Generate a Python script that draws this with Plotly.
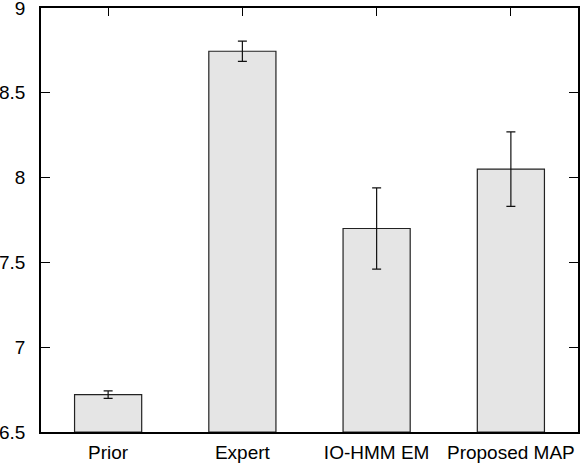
"""Bar chart with error bars: prior vs expert vs IO-HMM EM vs proposed MAP."""

import plotly.graph_objects as go

methods = ["Prior", "Expert", "IO-HMM EM", "Proposed MAP"]
means = [6.72, 8.745, 7.70, 8.05]
errors = [0.022, 0.06, 0.24, 0.22]

y_ticks = [6.5, 7, 7.5, 8, 8.5, 9]
y_tick_labels = ["6.5", "7", "7.5", "8", "8.5", "9"]

FONT = "Liberation Sans, Arial, sans-serif"

fig = go.Figure()
fig.add_trace(
    go.Bar(
        x=list(range(len(methods))),
        y=[m - 6.5 for m in means],
        base=6.5,
        width=0.5,
        marker={"color": "#e5e5e5", "line": {"color": "#222222", "width": 1.2}},
        error_y={
            "type": "data",
            "array": errors,
            "color": "#111111",
            "thickness": 1.2,
            "width": 4.5,
        },
        hoverinfo="skip",
    )
)
fig.update_layout(
    width=580,
    height=464,
    margin={"l": 41, "r": 2, "t": 8, "b": 32, "autoexpand": False},
    paper_bgcolor="white",
    plot_bgcolor="white",
    showlegend=False,
    font={"family": FONT, "size": 19, "color": "black"},
    xaxis={
        "range": [-0.5, 3.5],
        "tickvals": list(range(len(methods))),
        "ticktext": methods,
        "ticks": "inside",
        "ticklen": 8,
        "tickcolor": "black",
        "showline": True,
        "linecolor": "black",
        "linewidth": 1.5,
        "mirror": "allticks",
        "showgrid": False,
        "zeroline": False,
        "layer": "below traces",
        "ticklabelstandoff": 2,
        "automargin": False,
    },
    yaxis={
        "range": [6.5, 9],
        "tickvals": y_ticks,
        "ticktext": y_tick_labels,
        "ticks": "inside",
        "ticklen": 9,
        "tickcolor": "black",
        "showline": True,
        "linecolor": "black",
        "linewidth": 1.5,
        "mirror": "allticks",
        "showgrid": False,
        "zeroline": False,
        "ticklabelstandoff": 10,
        # "9" pokes above the page edge; keep it anyway
        "ticklabeloverflow": "allow",
        "automargin": False,
    },
)

# the page's default body margin would push the figure 8px down/right
fig.write_html(
    "out.html",
    config={"displayModeBar": False},
    post_script="document.body.style.margin = '0';",
)
